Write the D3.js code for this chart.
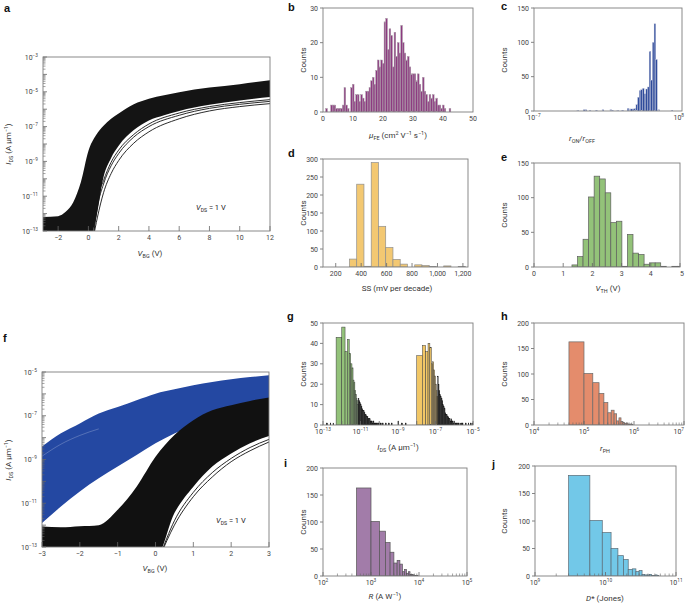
<!DOCTYPE html>
<html>
<head>
<meta charset="utf-8">
<script src="https://cdn.jsdelivr.net/npm/d3@7"></script>
<style>
body { margin: 0; background: #fff; }
svg { display: block; }
</style>
</head>
<body>
<script>
// ---------- data ----------

// a: transfer curves, log10(I) envelopes of the bundle
const aVbg = [-3, -2, -1.5, -1, -0.5, 0, 0.5, 1, 1.5, 2, 3, 4, 5, 6, 8, 10, 12]
const aBandTop = [-12.2, -12.15, -11.9, -11.35, -10.2, -8.4, -7.5, -6.95, -6.55, -6.25, -5.72, -5.4, -5.2, -5.02, -4.76, -4.56, -4.34]
const aBandBottom = [-13.5, -13.5, -13.5, -13.5, -13.5, -13.5, -12.3, -9.9, -8.8, -8.1, -7.2, -6.65, -6.35, -6.1, -5.75, -5.5, -5.3]
const aTailV = [0.3, 0.6, 1, 1.5, 2, 3, 4, 6, 8, 10, 12]
const aTail1 = [-13.5, -11.2, -10.1, -9.05, -8.35, -7.45, -6.85, -6.22, -5.85, -5.62, -5.45]
const aTail2 = [-13.5, -11.6, -10.3, -9.25, -8.55, -7.6, -7.0, -6.35, -5.95, -5.72, -5.55]
const aTail3 = [-13.5, -12.2, -10.8, -9.7, -8.95, -7.95, -7.3, -6.55, -6.1, -5.85, -5.68]

// b: mobility histogram
const muStart = 0.9
const muWidth = 0.556
const muCounts = [1, 0, 0, 2, 2, 2, 1, 1, 1, 1, 2, 7, 2, 1, 0, 7, 8, 3, 5, 5,
  3, 5, 4, 3, 6, 6, 7, 9, 10, 8, 12, 15, 13, 15, 14, 26, 27, 18, 24, 22,
  13, 23, 16, 20, 17, 25, 20, 17, 15, 16, 13, 11, 11, 11, 9, 11, 8, 6, 10, 6,
  5, 3, 5, 4, 5, 3, 4, 2, 2, 1, 2, 1, 0, 0, 1]

// c: on/off ratio histogram (log10 left edges)
const onoffLogLeft = [-2.65, -2.0, -1.83, -1.4, -0.75, -0.1, 0.7, 0.87, 1.4, 1.9, 2.45, 2.62, 2.79, 2.96, 3.13,
  3.33, 3.5, 3.67, 3.83, 4.0, 4.17, 4.33, 4.5, 4.67, 4.83, 5.0, 5.17, 5.33, 5.55, 6.9]
const onoffCounts = [1, 2, 2, 1, 1, 2, 2, 1, 1, 1, 4, 3, 3, 3, 4,
  10, 20, 30, 32, 33, 25, 32, 35, 87, 45, 100, 127, 75, 2, 1]
const onoffBinDec = 0.167

// d: subthreshold swing histogram
const ssStart = 308
const ssWidth = 57
const ssCounts = [22, 230, 2, 290, 113, 54, 21, 8, 0, 6, 4, 1, 0, 3, 0, 1]

// e: threshold voltage histogram
const vthStart = 1.3
const vthWidth = 0.19
const vthCounts = [3, 15, 40, 101, 131, 127, 107, 64, 66, 1, 47, 20, 18, 4, 6, 6, 1, 0, 1, 1]

// f: dark (black) and illuminated (blue) transfer curves, log10(I)
const fVbg = [-3, -2.5, -2, -1.5, -1, -0.5, 0, 0.5, 1, 1.5, 2, 2.5, 3]
const fLightTop = [-8.4, -7.8, -7.35, -6.9, -6.6, -6.29, -5.99, -5.79, -5.6, -5.46, -5.33, -5.23, -5.15]
const fLightBottom = [-11.9, -11.15, -10.46, -9.86, -9.32, -8.79, -8.26, -7.81, -7.43, -7.05, -6.75, -6.52, -6.29]
const fDarkTop = [-12.06, -12.1, -12.05, -12.0, -11.3, -10.24, -8.87, -7.88, -7.2, -6.75, -6.52, -6.32, -6.17]
const fDarkBottom = [-13.5, -13.5, -13.5, -13.5, -13.5, -13.5, -13.5, -11.45, -10.24, -9.32, -8.72, -8.26, -7.93]
const fTailV = [0.1, 0.5, 1, 1.5, 2, 2.5, 3]
const fTail1 = [-13.5, -11.8, -10.5, -9.6, -8.95, -8.45, -8.08]
const fTail2 = [-13.5, -12.0, -10.7, -9.8, -9.1, -8.6, -8.2]
const fStreakV = [-3, -2.5, -2, -1.5]
const fStreak = [-8.85, -8.3, -7.9, -7.6]

// g: dark (green) and light (yellow) current histograms
const gOffStart = 5e-13
const gOffStep = 5e-13
const gOffCounts = [43, 48, 36, 42, 35, 30, 28, 22, 21, 17, 15, 13, 12, 10]
const gOnStart = 1e-8
const gOnStep = 1e-8
const gOnCounts = [34, 39, 36, 40, 38, 30, 31, 27, 24, 20, 17, 14]
const gTailDec = 0.04
const gOffTailLog = -11.12
const gOffTail = [13, 12, 11, 10, 9, 8, 7, 7, 6, 5, 5, 4, 4, 3, 3, 3, 2, 2, 2, 1, 2, 1, 1, 1, 1, 0, 1, 1, 0, 1, 1]
const gOnTailLog = -6.89
const gOnTail = [24, 20, 17, 15, 14, 13, 12, 10, 9, 8, 6, 5, 5, 4, 4, 3, 3, 2, 3, 2, 2, 1, 2, 1, 1, 1, 0, 1, 1, 0, 1, 0, 1, 1]
const gStray = [1.6e-13, 2.4e-13, 3.4e-13, 1.5e-10, 2.2e-10, 3.2e-10, 4.5e-10, 1e-9, 1.6e-9, 2.5e-9, 4e-6, 5.5e-6, 7.5e-6, 9e-6]
const gStrayCounts = [1, 1, 1, 1, 1, 1, 1, 2, 1, 1, 1, 1, 1, 1]

// h: photosensitivity
const rphStart = 5e4
const rphWidth = 5e4
const rphCounts = [163, 101, 83, 62, 44, 24, 29, 22, 8, 14, 7, 5, 3, 4, 2, 1, 2, 1]

// i: responsivity
const respStart = 5e2
const respWidth = 5e2
const respCounts = [163, 101, 83, 62, 44, 24, 29, 22, 8, 12, 5, 8, 3, 3, 2, 1, 1, 1]

// j: detectivity
const detStart = 3e9
const detWidth = 3e9
const detCounts = [183, 101, 79, 50, 37, 30, 12, 13, 8, 10, 3, 2, 2, 3, 1, 1, 2, 1]

// ---------- drawing ----------
const W = 685
const svg = d3.select('body').append('svg')
  .attr('width', W)
  .attr('height', 604)
  .style('font-family', 'Roboto, "Noto Sans", sans-serif')

const TICK = '#666'
const LABEL = '#444'
const FRAME = '#7d7d7d'

// text made of pieces: ['str', ''|'i'|'sub'|'sup']
function rich(sel, parts, size) {
  let shift = 0
  parts.forEach(([t, k]) => {
    const ts = sel.append('tspan').text(t)
    let target = 0
    if (k === 'sub') target = size * 0.3
    if (k === 'sup') target = -size * 0.4
    if (target - shift !== 0) ts.attr('dy', target - shift)
    shift = target
    if (k === 'sub' || k === 'sup') ts.attr('font-size', size * 0.68)
    if (k === 'i') ts.attr('font-style', 'italic')
  })
}
function put(sel, lab, size) {
  if (Array.isArray(lab)) rich(sel, lab, size)
  else sel.text(lab)
}
const pow = e => [['10', ''], [String(e).replace('-', '\u2212'), 'sup']]
const exp10 = v => Math.pow(10, v)

function letter(t, x, y) {
  svg.append('text').attr('x', x).attr('y', y)
    .attr('font-family', '"Liberation Sans", Arial, sans-serif')
    .attr('font-weight', 'bold').attr('font-size', 11).attr('fill', '#111')
    .text(t)
}

function clipFor(id, c) {
  svg.append('clipPath').attr('id', id).append('rect')
    .attr('x', c.L).attr('y', c.T).attr('width', c.R - c.L).attr('height', c.B - c.T)
  return svg.append('g').attr('clip-path', `url(#${id})`)
}

function axes(c) {
  const g = svg.append('g')
  ;(c.xMinor || []).forEach(v => {
    g.append('line').attr('x1', c.x(v)).attr('x2', c.x(v))
      .attr('y1', c.B).attr('y2', c.B - 2.5).attr('stroke', TICK).attr('stroke-width', 0.6)
  })
  ;(c.xTicks || []).forEach(v => {
    g.append('line').attr('x1', c.x(v)).attr('x2', c.x(v))
      .attr('y1', c.B).attr('y2', c.B - (c.xLen || 4)).attr('stroke', TICK).attr('stroke-width', 0.8)
  })
  c.xLabels.forEach(([v, lab]) => {
    // labels at the page's right edge are pulled inside it
    const atEdge = c.x(v) + 6 > W
    const t = g.append('text').attr('x', atEdge ? W - 1 : c.x(v)).attr('y', c.B + 9)
      .attr('text-anchor', atEdge ? 'end' : 'middle').attr('font-size', 7).attr('fill', LABEL)
    put(t, lab, 7)
  })
  ;(c.yMinor || []).forEach(v => {
    g.append('line').attr('x1', c.L).attr('x2', c.L + 2.5)
      .attr('y1', c.y(v)).attr('y2', c.y(v)).attr('stroke', TICK).attr('stroke-width', 0.6)
  })
  ;(c.yTicks || []).forEach(v => {
    const len = c.yIn ? 4 : -3
    g.append('line').attr('x1', c.L).attr('x2', c.L + len)
      .attr('y1', c.y(v)).attr('y2', c.y(v)).attr('stroke', TICK).attr('stroke-width', 0.8)
  })
  c.yLabels.forEach(([v, lab]) => {
    const t = g.append('text').attr('x', c.L - 5).attr('y', c.y(v) + 2.5)
      .attr('text-anchor', 'end').attr('font-size', 7).attr('fill', LABEL)
    put(t, lab, 7)
  })
  g.append('rect').attr('x', c.L).attr('y', c.T).attr('width', c.R - c.L).attr('height', c.B - c.T)
    .attr('fill', 'none').attr('stroke', FRAME).attr('stroke-width', 0.9)
  const xt = g.append('text').attr('x', c.xt[0]).attr('y', c.xt[1])
    .attr('text-anchor', 'middle').attr('font-size', 8).attr('fill', '#333')
  put(xt, c.xTitle, 8)
  const yt = g.append('text').attr('transform', `translate(${c.yt[0]},${c.yt[1]}) rotate(-90)`)
    .attr('text-anchor', 'middle').attr('font-size', 8).attr('fill', '#333')
  put(yt, c.yTitle, 8)
}

function bars(plot, x, y, bins, fill, stroke, sw) {
  plot.selectAll(null).data(bins.filter(d => d.n > 0)).enter().append('rect')
    .attr('x', d => x(d.x0))
    .attr('width', d => Math.max(0.3, x(d.x1) - x(d.x0)))
    .attr('y', d => y(d.n))
    .attr('height', d => y(0) - y(d.n))
    .attr('fill', fill)
    .attr('stroke', stroke)
    .attr('stroke-width', sw)
}
const linBins = (start, w, counts) => counts.map((n, i) => ({ x0: start + i * w, x1: start + (i + 1) * w, n }))
const logBins = (startLog, dec, counts) => counts.map((n, i) => ({ x0: exp10(startLog + i * dec), x1: exp10(startLog + (i + 1) * dec), n }))

function decadeMinor(lo, hi) {
  const out = []
  for (let e = lo; e < hi; e++) for (let k = 2; k <= 9; k++) out.push(k * exp10(e))
  return out
}
const range = (a, b, s) => d3.range(a, b + s / 2, s)

// ---------- a ----------
{
  const c = { L: 43, R: 270, T: 57, B: 231 }
  c.x = d3.scaleLinear().domain([-3, 12]).range([c.L, c.R])
  c.y = d3.scaleLog().domain([1e-13, 1e-3]).range([c.B, c.T])
  const plot = clipFor('clipA', c)
  const pts = aVbg.map((v, i) => ({ v, top: aBandTop[i], bot: aBandBottom[i] }))
  plot.append('path').datum(pts)
    .attr('d', d3.area().curve(d3.curveMonotoneX)
      .x(d => c.x(d.v)).y0(d => c.y(exp10(d.bot))).y1(d => c.y(exp10(d.top))))
    .attr('fill', '#141414')
  const line = d3.line().curve(d3.curveMonotoneX).x(d => c.x(d[0])).y(d => c.y(exp10(d[1])))
  ;[aTail1, aTail2, aTail3].forEach(t => {
    plot.append('path').datum(aTailV.map((v, i) => [v, t[i]]))
      .attr('d', line).attr('fill', 'none').attr('stroke', '#141414').attr('stroke-width', 0.9)
  })
  axes(Object.assign(c, {
    xTicks: range(-2, 12, 2), xLen: 5,
    xLabels: range(-2, 12, 2).map(v => [v, v < 0 ? '\u2212' + (-v) : String(v)]),
    yTicks: d3.range(-13, -2).map(exp10), yIn: true,
    yMinor: decadeMinor(-13, -3),
    yLabels: [-13, -11, -9, -7, -5, -3].map(e => [exp10(e), pow(e)]),
    xTitle: [['V', 'i'], ['BG', 'sub'], [' (V)', '']], xt: [150, 256],
    yTitle: [['I', 'i'], ['DS', 'sub'], [' (A \u00b5m', ''], ['\u22121', 'sup'], [')', '']], yt: [11, 144]
  }))
  const t = svg.append('text').attr('x', 196).attr('y', 210).attr('font-size', 7.5).attr('fill', '#222')
  rich(t, [['V', 'i'], ['DS', 'sub'], [' = 1 V', '']], 7.5)
  letter('a', 4, 12)
}

// ---------- b ----------
{
  const c = { L: 323, R: 473, T: 8, B: 112 }
  c.x = d3.scaleLinear().domain([0, 50]).range([c.L, c.R])
  c.y = d3.scaleLinear().domain([0, 30]).range([c.B, c.T])
  const plot = clipFor('clipB', c)
  bars(plot, c.x, c.y, linBins(muStart, muWidth, muCounts), '#8d3a81', '#a99aa6', 0.5)
  axes(Object.assign(c, {
    xLabels: range(0, 50, 10).map(v => [v, String(v)]),
    yTicks: range(0, 30, 10),
    yLabels: range(0, 30, 10).map(v => [v, String(v)]),
    xTitle: [['\u03bc', 'i'], ['FE', 'sub'], [' (cm', ''], ['2', 'sup'], [' V', ''], ['\u22121', 'sup'], [' s', ''], ['\u22121', 'sup'], [')', '']],
    xt: [398, 138],
    yTitle: 'Counts', yt: [306, 60]
  }))
  letter('b', 288, 11)
}

// ---------- c ----------
{
  const c = { L: 534, R: 682, T: 8, B: 111 }
  c.x = d3.scaleLog().domain([1e-7, 1e8]).range([c.L, c.R])
  c.y = d3.scaleLinear().domain([0, 150]).range([c.B, c.T])
  const plot = clipFor('clipC', c)
  const bins = onoffLogLeft.map((l, i) => ({ x0: exp10(l), x1: exp10(l + onoffBinDec), n: onoffCounts[i] }))
  bars(plot, c.x, c.y, bins, '#2f4b9b', '#c8cde0', 0.35)
  axes(Object.assign(c, {
    xLabels: [[1e-7, pow(-7)], [1e8, pow(8)]],
    yTicks: range(0, 150, 50),
    yLabels: range(0, 150, 50).map(v => [v, String(v)]),
    xTitle: [['r', 'i'], ['ON', 'sub'], ['/', ''], ['r', 'i'], ['OFF', 'sub']], xt: [582, 141],
    yTitle: 'Counts', yt: [507, 60]
  }))
  letter('c', 501, 10)
}

// ---------- d ----------
{
  const c = { L: 323, R: 468, T: 159, B: 267 }
  c.x = d3.scaleLinear().domain([100, 1240]).range([c.L, c.R])
  c.y = d3.scaleLinear().domain([0, 300]).range([c.B, c.T])
  const plot = clipFor('clipD', c)
  bars(plot, c.x, c.y, linBins(ssStart, ssWidth, ssCounts), '#f3c872', '#8f8f8f', 0.7)
  axes(Object.assign(c, {
    xTicks: range(200, 1200, 200),
    xLabels: range(200, 1200, 200).map(v => [v, d3.format(',')(v)]),
    yTicks: range(0, 300, 50),
    yLabels: range(0, 300, 50).map(v => [v, String(v)]),
    xTitle: 'SS (mV per decade)', xt: [397, 291],
    yTitle: 'Counts', yt: [306, 213]
  }))
  letter('d', 288, 157)
}

// ---------- e ----------
{
  const c = { L: 534, R: 680, T: 163, B: 267 }
  c.x = d3.scaleLinear().domain([0, 5]).range([c.L, c.R])
  c.y = d3.scaleLinear().domain([0, 150]).range([c.B, c.T])
  const plot = clipFor('clipE', c)
  bars(plot, c.x, c.y, linBins(vthStart, vthWidth, vthCounts), '#93c279', '#5d5d5d', 0.7)
  axes(Object.assign(c, {
    xTicks: range(0, 5, 1),
    xLabels: range(0, 5, 1).map(v => [v, String(v)]),
    yTicks: range(0, 150, 50),
    yLabels: range(0, 150, 50).map(v => [v, String(v)]),
    xTitle: [['V', 'i'], ['TH', 'sub'], [' (V)', '']], xt: [608, 291],
    yTitle: 'Counts', yt: [507, 215]
  }))
  letter('e', 501, 161)
}

// ---------- f ----------
{
  const c = { L: 42, R: 269, T: 372, B: 547 }
  c.x = d3.scaleLinear().domain([-3, 3]).range([c.L, c.R])
  c.y = d3.scaleLog().domain([1e-13, 1e-5]).range([c.B, c.T])
  const plot = clipFor('clipF', c)
  const area = d3.area().curve(d3.curveMonotoneX)
    .x(d => c.x(d.v)).y0(d => c.y(exp10(d.bot))).y1(d => c.y(exp10(d.top)))
  plot.append('path').datum(fVbg.map((v, i) => ({ v, top: fLightTop[i], bot: fLightBottom[i] })))
    .attr('d', area).attr('fill', '#2448a2')
  const line = d3.line().curve(d3.curveMonotoneX).x(d => c.x(d[0])).y(d => c.y(exp10(d[1])))
  plot.append('path').datum(fStreakV.map((v, i) => [v, fStreak[i]]))
    .attr('d', line).attr('fill', 'none').attr('stroke', '#ffffff').attr('stroke-width', 0.5).attr('opacity', 0.45)
  plot.append('path').datum(fVbg.map((v, i) => ({ v, top: fDarkTop[i], bot: fDarkBottom[i] })))
    .attr('d', area).attr('fill', '#111')
  ;[fTail1, fTail2].forEach(t => {
    plot.append('path').datum(fTailV.map((v, i) => [v, t[i]]))
      .attr('d', line).attr('fill', 'none').attr('stroke', '#111').attr('stroke-width', 0.9)
  })
  axes(Object.assign(c, {
    xTicks: range(-3, 3, 1), xLen: 5,
    xLabels: range(-3, 3, 1).map(v => [v, v < 0 ? '\u2212' + (-v) : String(v)]),
    yTicks: d3.range(-13, -4).map(exp10), yIn: true,
    yMinor: decadeMinor(-13, -5),
    yLabels: [-13, -11, -9, -7, -5].map(e => [exp10(e), pow(e)]),
    xTitle: [['V', 'i'], ['BG', 'sub'], [' (V)', '']], xt: [155, 571],
    yTitle: [['I', 'i'], ['DS', 'sub'], [' (A \u00b5m', ''], ['\u22121', 'sup'], [')', '']], yt: [11, 460]
  }))
  const t = svg.append('text').attr('x', 216).attr('y', 523).attr('font-size', 7.5).attr('fill', '#222')
  rich(t, [['V', 'i'], ['DS', 'sub'], [' = 1 V', '']], 7.5)
  letter('f', 3, 342)
}

// ---------- g ----------
{
  const c = { L: 323, R: 473, T: 323, B: 425 }
  c.x = d3.scaleLog().domain([1e-13, 1e-5]).range([c.L, c.R])
  c.y = d3.scaleLinear().domain([0, 50]).range([c.B, c.T])
  const plot = clipFor('clipG', c)
  bars(plot, c.x, c.y, linBins(gOffStart, gOffStep, gOffCounts), '#93c27a', '#3c3c3c', 0.5)
  bars(plot, c.x, c.y, linBins(gOnStart, gOnStep, gOnCounts), '#f2c766', '#3c3c3c', 0.5)
  bars(plot, c.x, c.y, logBins(gOffTailLog, gTailDec, gOffTail), '#111', '#111', 0.2)
  bars(plot, c.x, c.y, logBins(gOnTailLog, gTailDec, gOnTail), '#111', '#111', 0.2)
  bars(plot, c.x, c.y, gStray.map((v, i) => ({ x0: v, x1: v * 1.1, n: gStrayCounts[i] })), '#111', '#111', 0.2)
  axes(Object.assign(c, {
    xTicks: d3.range(-13, -4).map(exp10),
    xLabels: [-13, -11, -9, -7, -5].map(e => [exp10(e), pow(e)]),
    yTicks: range(0, 50, 10),
    yLabels: range(0, 50, 10).map(v => [v, String(v)]),
    xTitle: [['I', 'i'], ['DS', 'sub'], [' (A \u00b5m', ''], ['\u22121', 'sup'], [')', '']], xt: [398, 450],
    yTitle: 'Counts', yt: [306, 374]
  }))
  letter('g', 287, 320)
}

// ---------- h ----------
{
  const c = { L: 534, R: 684, T: 323, B: 425 }
  c.x = d3.scaleLog().domain([1e4, 1e7]).range([c.L, c.R])
  c.y = d3.scaleLinear().domain([0, 200]).range([c.B, c.T])
  const plot = clipFor('clipH', c)
  bars(plot, c.x, c.y, linBins(rphStart, rphWidth, rphCounts), '#e48c6c', '#6a6a6a', 0.7)
  axes(Object.assign(c, {
    xTicks: [1e4, 1e5, 1e6, 1e7],
    xMinor: decadeMinor(4, 7),
    xLabels: [4, 5, 6, 7].map(e => [exp10(e), pow(e)]),
    yTicks: range(0, 200, 50),
    yLabels: range(0, 200, 50).map(v => [v, String(v)]),
    xTitle: [['r', 'i'], ['PH', 'sub']], xt: [605, 451],
    yTitle: 'Counts', yt: [507, 374]
  }))
  letter('h', 501, 320)
}

// ---------- i ----------
{
  const c = { L: 323, R: 467, T: 468, B: 576 }
  c.x = d3.scaleLog().domain([1e2, 1e5]).range([c.L, c.R])
  c.y = d3.scaleLinear().domain([0, 200]).range([c.B, c.T])
  const plot = clipFor('clipI', c)
  bars(plot, c.x, c.y, linBins(respStart, respWidth, respCounts), '#a27ca9', '#555', 0.7)
  axes(Object.assign(c, {
    xTicks: [1e2, 1e3, 1e4, 1e5],
    xMinor: decadeMinor(2, 5),
    xLabels: [2, 3, 4, 5].map(e => [exp10(e), pow(e)]),
    yTicks: range(0, 200, 50),
    yLabels: range(0, 200, 50).map(v => [v, String(v)]),
    xTitle: [['R', 'i'], [' (A W', ''], ['\u22121', 'sup'], [')', '']], xt: [385, 599],
    yTitle: 'Counts', yt: [306, 522]
  }))
  letter('i', 284, 467)
}

// ---------- j ----------
{
  const c = { L: 535, R: 676, T: 466, B: 576 }
  c.x = d3.scaleLog().domain([1e9, 1e11]).range([c.L, c.R])
  c.y = d3.scaleLinear().domain([0, 200]).range([c.B, c.T])
  const plot = clipFor('clipJ', c)
  bars(plot, c.x, c.y, linBins(detStart, detWidth, detCounts), '#72c8e8', '#5b6b76', 0.7)
  axes(Object.assign(c, {
    xTicks: [1e9, 1e10, 1e11],
    xMinor: decadeMinor(9, 11),
    xLabels: [9, 10, 11].map(e => [exp10(e), pow(e)]),
    yTicks: range(0, 200, 50),
    yLabels: range(0, 200, 50).map(v => [v, String(v)]),
    xTitle: [['D', 'i'], ['* (Jones)', '']], xt: [605, 601],
    yTitle: 'Counts', yt: [507, 521]
  }))
  letter('j', 492, 468)
}
</script>
</body>
</html>
